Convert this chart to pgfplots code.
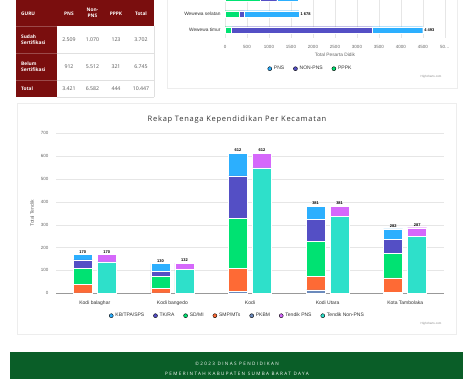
\documentclass[border=0pt]{standalone}
\usepackage{fontspec}
\setmainfont{Liberation Sans}
\newfontfamily\osans{Open Sans}
\newfontfamily\titlefont[LetterSpace=10]{Open Sans}
\newfontfamily\footfont[LetterSpace=30]{Open Sans}
\usepackage{pgfplots}
\pgfplotsset{compat=1.18}
\definecolor{cKB}{HTML}{2CAFFE}
\definecolor{cTK}{HTML}{544FC5}
\definecolor{cSD}{HTML}{00E272}
\definecolor{cSMP}{HTML}{FE6A35}
\definecolor{cPKBM}{HTML}{6B8ABC}
\definecolor{cTP}{HTML}{D568FB}
\definecolor{cTN}{HTML}{2EE0CA}
\definecolor{maroon}{RGB}{122,14,14}
\definecolor{fgreen}{RGB}{10,94,40}
\definecolor{gridc}{HTML}{E6E6E6}
\definecolor{txt}{HTML}{333333}
\definecolor{tickc}{HTML}{666666}
\definecolor{cellc}{HTML}{555555}
\pgfplotsset{
  maingeo/.style={at={(56pt,-293.3pt)}, anchor=south west, scale only axis,
    width=388pt, height=160pt, xmin=-0.5, xmax=4.5, ymin=0, ymax=700},
  mainax/.style={maingeo, ybar stacked, bar width=19pt},
  toplab/.style={draw=none, mark=none, nodes near coords, point meta=explicit symbolic,
    every node near coord/.append style={font=\bfseries\fontsize{4}{5}\selectfont, text=black, inner sep=1.2pt, anchor=south, xshift=#1}},
  legonly/.style={scale only axis, width=1pt, height=1pt, hide axis, xmin=0, xmax=1, ymin=0, ymax=1,
    legend image code/.code={\fill[##1] (2pt,0pt) circle (2pt);},
    legend style={draw=none, fill=none, at={(0.5,0.5)}, anchor=center,
      font=\fontsize{5}{6}\selectfont, text=txt, inner sep=0pt},
    legend cell align=left}
}
\begin{document}
\begin{tikzpicture}[x=1pt,y=1pt]
\useasboundingbox (0,0) rectangle (474,-379);
\begin{scope}
\clip (0,0) rectangle (474,-379);
\fill[white] (0,0) rectangle (474,-379);
% cards
\draw[black!7, fill=white] (167,5) rectangle (457,-88);
\draw[black!7, fill=white] (17,-103) rectangle (456,-334);
% table
\fill[maroon] (16,0) rectangle (154,-26);
\fill[maroon] (16,-26) rectangle (57,-97);
\draw[maroon!75!white, line width=0.4pt] (16,-26) -- (57,-26) (16,-53) -- (57,-53) (16,-80) -- (57,-80);
\draw[black!12, line width=0.4pt] (57,-53) -- (154,-53) (57,-80) -- (154,-80) (57,-97) -- (154,-97) (154,-26) -- (154,-97);
\begin{scope}[every node/.style={font=\osans\bfseries\fontsize{4.8}{5.8}\selectfont, text=white, inner sep=0pt}]
\node[anchor=west] at (21,-14) {GURU};
\node at (69,-14) {PNS};
\node[align=center] at (92.5,-13) {Non-\\PNS};
\node at (116,-14) {PPPK};
\node at (141,-14) {Total};
\node[anchor=west, align=left] at (21,-40) {Sudah\\Sertifikasi};
\node[anchor=west, align=left] at (21,-66.5) {Belum\\Sertifikasi};
\node[anchor=west] at (21,-89) {Total};
\end{scope}
\begin{scope}[every node/.style={font=\osans\fontsize{5.2}{6}\selectfont, text=cellc, inner sep=0pt}]
\node at (69,-40) {2.509}; \node at (92.5,-40) {1.070}; \node at (116,-40) {123}; \node at (141,-40) {3.702};
\node at (69,-67) {912}; \node at (92.5,-67) {5.512}; \node at (116,-67) {321}; \node at (141,-67) {6.745};
\node at (69,-89) {3.421}; \node at (92.5,-89) {6.582}; \node at (116,-89) {444}; \node at (141,-89) {10.447};
\end{scope}
% top horizontal bar chart
\begin{axis}[at={(225pt,-38pt)}, anchor=south west, scale only axis,
  width=220pt, height=48pt, xbar stacked, bar width=6.5pt,
  xmin=0, xmax=5000, ymin=-0.5, ymax=2.5, y dir=reverse,
  ytick={1,2}, yticklabels={Wewewa selatan,Wewewa timur},
  xtick={0,500,1000,1500,2000,2500,3000,3500,4000,4500,5000},
  xticklabels={0,500,1000,1500,2000,2500,3000,3500,4000,4500,{50\ldots}},
  xmajorgrids, grid style={gridc, line width=0.4pt},
  axis line style={draw=none}, major tick length=0pt,
  xticklabel style={font=\fontsize{4.5}{5}\selectfont, text=tickc, yshift=-4pt},
  yticklabel style={font=\fontsize{4.8}{5.5}\selectfont, text=txt, xshift=-1pt},
  xlabel={Total Pesarta Didik},
  xlabel style={at={(axis description cs:0.5,-0.36)}, anchor=center, font=\fontsize{4.8}{5.5}\selectfont, text=tickc},
  every axis plot/.append style={draw=white, line width=0.3pt}]
\addplot[fill=cSD] coordinates {(795,0) (318,1) (150,2)};
\addplot[fill=cTK] coordinates {(380,0) (115,1) (3200,2)};
\addplot[fill=cKB] coordinates {(490,0) (1245,1) (1143,2)};
\end{axis}
\begin{axis}[at={(225pt,-38pt)}, anchor=south west, scale only axis,
  width=220pt, height=48pt, xmin=0, xmax=5000, ymin=-0.5, ymax=2.5, y dir=reverse, hide axis]
\addplot[draw=none, mark=none, nodes near coords, point meta=explicit symbolic,
  every node near coord/.append style={anchor=west, font=\bfseries\fontsize{4}{5}\selectfont, text=black, inner sep=1.5pt}]
  coordinates {(1678,1)[1 678] (4493,2)[4 493]};
\end{axis}
\begin{axis}[legonly, at={(310.5pt,-68.7pt)}, anchor=center, legend columns=3,
  legend style={/tikz/every even column/.append style={column sep=7pt}}]
\addlegendimage{fill=cKB}\addlegendentry{PNS}
\addlegendimage{fill=cTK}\addlegendentry{NON-PNS}
\addlegendimage{fill=cSD}\addlegendentry{PPPK}
\end{axis}
\node[font=\fontsize{3}{4}\selectfont, text=black!45] at (431,-77) {Highcharts.com};
% main chart
\node[font=\titlefont\fontsize{7.5}{8}\selectfont, text=txt] at (237,-120) {Rekap Tenaga Kependidikan Per Kecamatan};
\begin{axis}[mainax, bar shift=-12pt,
  ytick={0,100,200,300,400,500,600,700}, ymajorgrids, grid style={gridc, line width=0.4pt},
  xtick={0,1,2,3,4}, xticklabels={Kodi balaghar, Kodi bangedo, Kodi, Kodi Utara, Kota Tambolaka},
  axis x line*=bottom, axis y line*=left, y axis line style={draw=none},
  x axis line style={-, draw=black!40, line width=0.5pt}, major tick length=0pt,
  /pgf/number format/assume math mode=true,
  yticklabel style={font=\fontsize{4.5}{5}\selectfont, text=tickc, xshift=-4pt},
  xticklabel style={font=\fontsize{5}{6}\selectfont, text=txt, yshift=-4pt},
  ylabel={Total Tendik},
  every axis y label/.style={at={(axis description cs:-0.0619,0.5)}, rotate=90, anchor=center, font=\fontsize{5}{6}\selectfont, text=tickc},
  every axis plot/.append style={draw=white, line width=0.4pt}]
\addplot[fill=cPKBM] coordinates {(0,2) (1,2) (2,10) (3,15) (4,5)};
\addplot[fill=cSMP] coordinates {(0,38) (1,20) (2,99) (3,60) (4,63)};
\addplot[fill=cSD] coordinates {(0,69) (1,51) (2,219) (3,153) (4,107)};
\addplot[fill=cTK] coordinates {(0,37) (1,22) (2,186) (3,95) (4,61)};
\addplot[fill=cKB] coordinates {(0,24) (1,35) (2,98) (3,58) (4,46)};
\end{axis}
\begin{axis}[mainax, bar shift=12pt, hide axis,
  every axis plot/.append style={draw=white, line width=0.4pt}]
\addplot[fill=cTN] coordinates {(0,138) (1,105) (2,549) (3,338) (4,248)};
\addplot[fill=cTP] coordinates {(0,32) (1,27) (2,63) (3,43) (4,39)};
\end{axis}
\begin{axis}[maingeo, hide axis]
\addplot[toplab=-12pt] coordinates {(0,170)[170] (1,130)[130] (2,612)[612] (3,381)[381] (4,282)[282]};
\addplot[toplab=12pt] coordinates {(0,170)[170] (1,132)[132] (2,612)[612] (3,381)[381] (4,287)[287]};
\end{axis}
\begin{axis}[legonly, at={(237.5pt,-315.7pt)}, anchor=center, legend columns=7,
  legend style={/tikz/every even column/.append style={column sep=7pt}}]
\addlegendimage{fill=cKB}\addlegendentry{KB/TPA/SPS}
\addlegendimage{fill=cTK}\addlegendentry{TK/RA}
\addlegendimage{fill=cSD}\addlegendentry{SD/MI}
\addlegendimage{fill=cSMP}\addlegendentry{SMP/MTs}
\addlegendimage{fill=cPKBM}\addlegendentry{PKBM}
\addlegendimage{fill=cTP}\addlegendentry{Tendik PNS}
\addlegendimage{fill=cTN}\addlegendentry{Tendik Non-PNS}
\end{axis}
\node[font=\fontsize{3}{4}\selectfont, text=black!45] at (431,-324) {Highcharts.com};
% footer
\fill[fgreen] (10,-352) rectangle (463,-381);
\node[font=\footfont\fontsize{4.6}{5}\selectfont, text=white] at (237,-364) {\textcopyright2023 DINAS PENDIDIKAN};
\node[font=\footfont\fontsize{4.6}{5}\selectfont, text=white] at (237,-374) {PEMERINTAH KABUPATEN SUMBA BARAT DAYA};
\end{scope}
\end{tikzpicture}
\end{document}
